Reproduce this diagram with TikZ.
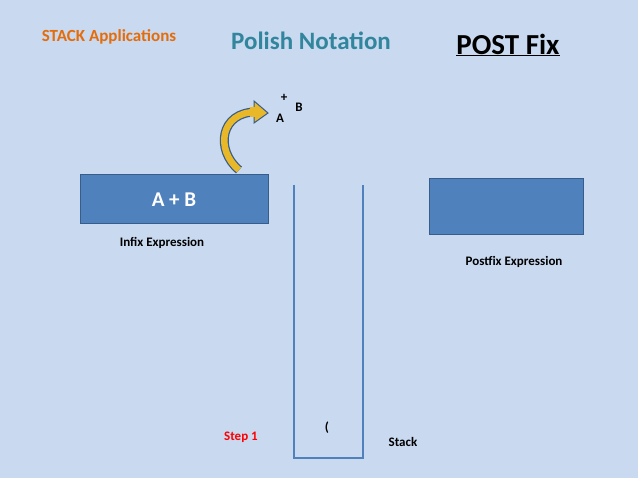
\documentclass[tikz,border=0pt]{standalone}
\usepackage{fontspec}
\setmainfont{Carlito}
\begin{document}
\begin{tikzpicture}[x=1pt,y=-1pt,
  lbl/.style={font=\bfseries\fontsize{13}{15}\selectfont},
  bluebox/.style={fill=boxblue,draw=boxedge,line width=1pt}]
\definecolor{bg}{HTML}{C8D9F0}
\definecolor{boxblue}{HTML}{4F81BD}
\definecolor{boxedge}{HTML}{385D8A}
\definecolor{orng}{HTML}{E46C0A}
\definecolor{teal}{HTML}{31859C}
\definecolor{yel}{HTML}{E8B828}
\fill[bg] (0,0) rectangle (638,478);
\useasboundingbox (0,0) rectangle (638,478);
\node[font=\bfseries\fontsize{17}{19}\selectfont,text=orng] (t1) at (109,37) {STACK Applications};
\node[font=\bfseries\fontsize{25}{28}\selectfont,text=teal] (t2) at (311,41) {Polish Notation};
\node[font=\bfseries\fontsize{29}{32}\selectfont] (t3) at (508,45) {\underline{POST Fix}};
\node[bluebox,minimum width=188pt,minimum height=49pt] (inf) at (174,199) {};
\node[text=white,font=\bfseries\fontsize{21}{24}\selectfont] (ab) at (174,200) {A + B};
\node[bluebox,minimum width=154pt,minimum height=56pt] (post) at (506,207) {};
\node[lbl] (il) at (162,243) {Infix Expression};
\node[lbl] (pl) at (514,262) {Postfix Expression};
\node[lbl,text=red] (s1) at (241,437) {Step 1};
\node[lbl] (par) at (327,428) {(};
\node[lbl] (st) at (403,442) {Stack};
\node[lbl] (plus) at (284,98) {+};
\node[lbl] (bb) at (299,107) {B};
\node[lbl] (aa) at (280,118) {A};
\coordinate (s0) at (294,185);
\coordinate (s1b) at (294,458);
\coordinate (s2) at (363,458);
\coordinate (s3) at (363,185);
\draw[boxblue,line width=2pt] (s0) -- (s1b) -- (s2) -- (s3);
% curved arrow
\coordinate (c0) at (239,170);
\coordinate (c1) at (256,112);
\draw[boxedge,line width=9pt] (c0) .. controls (215,150) and (220,112) .. (c1);
\draw[yel,line width=6.5pt] (c0) .. controls (215,150) and (220,112) .. (c1);
\filldraw[fill=yel,draw=boxedge,line width=1pt] (254,101) -- (268,113) -- (254,123) -- cycle;
\fill[yel] (250,107) rectangle (256,117);
\end{tikzpicture}
\end{document}
